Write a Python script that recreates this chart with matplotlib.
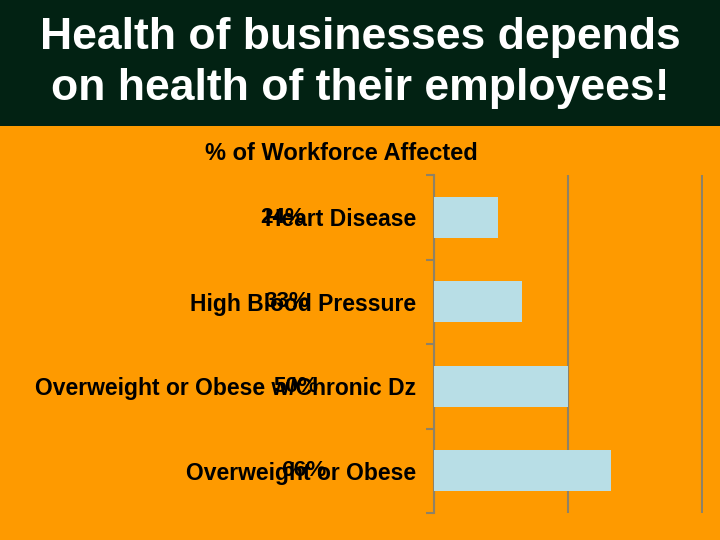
import matplotlib.pyplot as plt
import numpy as np

# chart data
categories = ['Heart Disease', 'High Blood Pressure',
              'Overweight or Obese w/Chronic Dz', 'Overweight or Obese']
values = [24, 33, 50, 66]
value_labels = ['24%', '33%', '50%', '66%']

header = 'Health of businesses depends\non health of their employees!'
chart_title = '% of Workforce Affected'

orange = '#FE9A00'
dark_green = '#022213'
bar_color = '#B8DEE6'
grey = '#8E8266'

plt.rcParams['font.family'] = ['Liberation Sans', 'DejaVu Sans']

fig = plt.figure(figsize=(7.2, 5.4), dpi=100)
fig.patch.set_facecolor(orange)

# dark header band
band = fig.add_axes([0, 1 - 126 / 540, 1, 126 / 540])
band.set_facecolor(dark_green)
band.set_xticks([])
band.set_yticks([])
for s in band.spines.values():
    s.set_visible(False)
band.text(0.5, 0.50, header, ha='center', va='center', color='white',
          fontsize=32, fontweight='bold', linespacing=1.3,
          transform=band.transAxes)

# plot area: 0 -> x=434px, 100 -> x=702px
px_per_unit = (702 - 434) / 100
x_max = 100.5
ax = fig.add_axes([434 / 720, 1 - 513 / 540, x_max * px_per_unit / 720, (513 - 175) / 540])
ax.set_facecolor(orange)
y = np.arange(len(categories))
ax.barh(y, values, height=0.49, color=bar_color, zorder=3)
ax.set_xlim(0, x_max)
ax.set_ylim(len(categories) - 0.5, -0.5)

ax.set_xticks([0, 50, 100])
ax.tick_params(axis='x', length=0, labelbottom=False)
ax.grid(axis='x', color=grey, linewidth=1.5, zorder=1)

ax.set_yticks(np.arange(-0.5, len(categories)))
ax.set_yticklabels([])
ax.tick_params(axis='y', which='major', length=6, width=1.5, color=grey)
ax.set_yticks(y, minor=True)
ax.set_yticklabels(categories, minor=True, fontsize=16.5, fontweight='bold')
ax.tick_params(axis='y', which='minor', length=0, pad=13)

for s in ['top', 'right', 'bottom']:
    ax.spines[s].set_visible(False)
ax.spines['left'].set_color(grey)
ax.spines['left'].set_linewidth(1.5)

# data labels sit over the category names, as in the original
for yi, v, lab in zip(y, values, value_labels):
    ax.text(v * 0.18 - 60.6, yi, lab, ha='center', va='center',
            fontsize=16.2, fontweight='bold', clip_on=False)

fig.text(341 / 720, 1 - 154 / 540, chart_title, ha='center', va='center',
         fontsize=17, fontweight='bold')

plt.savefig('out.png', dpi=100, facecolor=fig.get_facecolor())
